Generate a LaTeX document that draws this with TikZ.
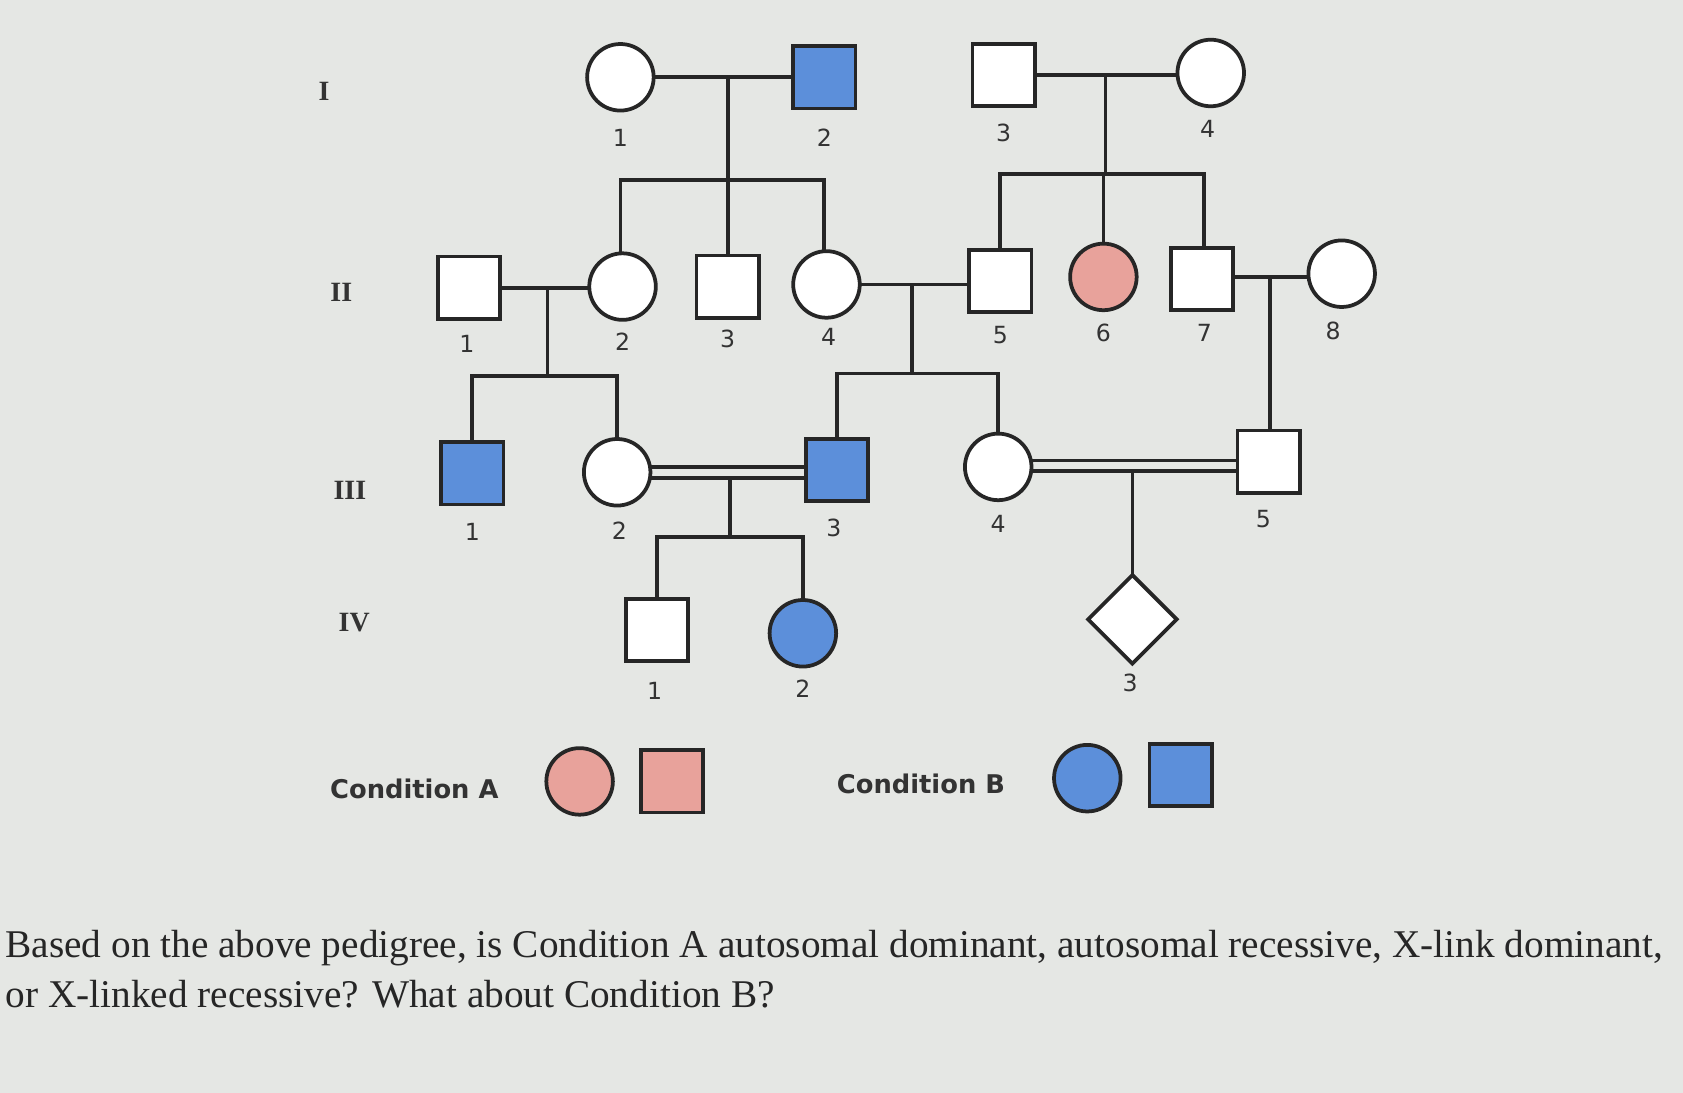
\documentclass[tikz,border=0pt]{standalone}
\usepackage{fontspec}
\setmainfont{Liberation Serif}
\newfontfamily\numf{DejaVu Sans}
\usetikzlibrary{shapes.geometric}
\definecolor{bg}{HTML}{E5E7E4}
\definecolor{aff}{HTML}{5C8FDA}
\definecolor{affa}{HTML}{E8A29B}
\tikzset{x=1pt,y=-1pt,
 ln/.style={line width=3.5pt,black!85},
 sq/.style={draw=black!85,line width=3.5pt,minimum size=58pt,inner sep=0pt,fill=white},
 ci/.style={circle,draw=black!85,line width=3.5pt,minimum size=62pt,inner sep=0pt,fill=white},
 dm/.style={diamond,draw=black!85,line width=3.5pt,minimum size=84pt,inner sep=0pt,fill=white},
 num/.style={font=\numf\fontsize{22}{24}\selectfont,text=black!80},
 gen/.style={font=\bfseries\fontsize{26}{28}\selectfont,text=black!80},
 leg/.style={font=\numf\bfseries\fontsize{24}{26}\selectfont,text=black!80}}
\begin{document}
\begin{tikzpicture}
\fill[bg] (0,0) rectangle (1568,1018);
\useasboundingbox (0,0) rectangle (1568,1018);
% generation labels
\node[gen] (gI) at (302,85) {I};
\node[gen] (gII) at (318,272) {II};
\node[gen] (gIII) at (326,457) {III};
\node[gen] (gIV) at (330,580) {IV};
% lines first
\coordinate (m1) at (678,72); \coordinate (s1) at (678,168);
\coordinate (m2) at (1030,70); \coordinate (s2) at (1030,162);
\coordinate (m3) at (510,268); \coordinate (s3) at (510,350);
\coordinate (m4) at (850,265); \coordinate (s4) at (850,348);
\coordinate (m5) at (1183,258);
\coordinate (m6) at (680,445); \coordinate (s6) at (680,500);
\coordinate (m7) at (1055,439);
% gen I
\draw[ln] (578,72) -- (768,72);
\draw[ln] (935,70) -- (1128,70);
\draw[ln] (m1) -- (s1); \draw[ln] (578,240) |- (768,168) -- (768,240);
\draw[ln] (678,168) -- (678,240);
\draw[ln] (m2) -- (s2); \draw[ln] (932,235) |- (1122,162) -- (1122,235);
\draw[ln] (1028,162) -- (1028,235);
% gen II
\draw[ln] (437,268) -- (580,268);
\draw[ln] (770,265) -- (932,265);
\draw[ln] (1120,258) -- (1250,258);
\draw[ln] (m3) -- (s3); \draw[ln] (440,412) |- (575,350) -- (575,412);
\draw[ln] (m4) -- (s4); \draw[ln] (780,410) |- (930,348) -- (930,410);
\draw[ln] (m5) -- (1183,402);
% gen III
\draw[ln] (575,435) -- (780,435); \draw[ln] (575,445) -- (780,445);
\draw[ln] (930,429) -- (1182,429); \draw[ln] (930,439) -- (1182,439);
\draw[ln] (m6) -- (s6); \draw[ln] (612,560) |- (748,500) -- (748,560);
\draw[ln] (m7) -- (1055,537);
% nodes
\node[ci] (I1) at (578,72) {}; \node[sq,fill=aff] (I2) at (768,72) {};
\node[sq] (I3) at (935,70) {}; \node[ci] (I4) at (1128,68) {};
\node[sq] (II1) at (437,268) {}; \node[ci] (II2) at (580,267) {};
\node[sq] (II3) at (678,267) {}; \node[ci] (II4) at (770,265) {};
\node[sq] (II5) at (932,262) {}; \node[ci,fill=affa] (II6) at (1028,258) {};
\node[sq] (II7) at (1120,260) {}; \node[ci] (II8) at (1250,255) {};
\node[sq,fill=aff] (III1) at (440,441) {}; \node[ci] (III2) at (575,440) {};
\node[sq,fill=aff] (III3) at (780,438) {}; \node[ci] (III4) at (930,435) {};
\node[sq] (III5) at (1182,430) {};
\node[sq] (IV1) at (612,587) {}; \node[ci,fill=aff] (IV2) at (748,590) {};
\node[dm] (IV3) at (1055,577) {};
% numbers
\foreach \x/\y/\t/\n in {578/128/1/a,768/128/2/b,935/124/3/c,1125/120/4/d,
 435/320/1/e,580/318/2/f,678/316/3/g,772/314/4/h,932/312/5/i,1028/310/6/j,1122/310/7/k,1242/308/8/l,
 440/496/1/m,577/494/2/n,777/492/3/o,930/488/4/p,1177/484/5/q,
 610/644/1/r,748/642/2/s,1053/636/3/t}
 \node[num] (n\n) at (\x,\y) {\t};
% legend
\node[leg] (LA) at (386,735) {Condition A};
\node[ci,fill=affa] (LA1) at (540,728) {}; \node[sq,fill=affa] (LA2) at (626,728) {};
\node[leg] (LB) at (858,730) {Condition B};
\node[ci,fill=aff] (LB1) at (1013,725) {}; \node[sq,fill=aff] (LB2) at (1100,722) {};
% question
\node[anchor=west,align=left,font=\fontsize{36.6}{47}\selectfont,text=black!85,inner sep=0pt] (Q) at (5,903)
 {Based on the above pedigree, is Condition A autosomal dominant, autosomal recessive, X-link dominant,\\or X-linked recessive? What about Condition B?};
\end{tikzpicture}
\end{document}
